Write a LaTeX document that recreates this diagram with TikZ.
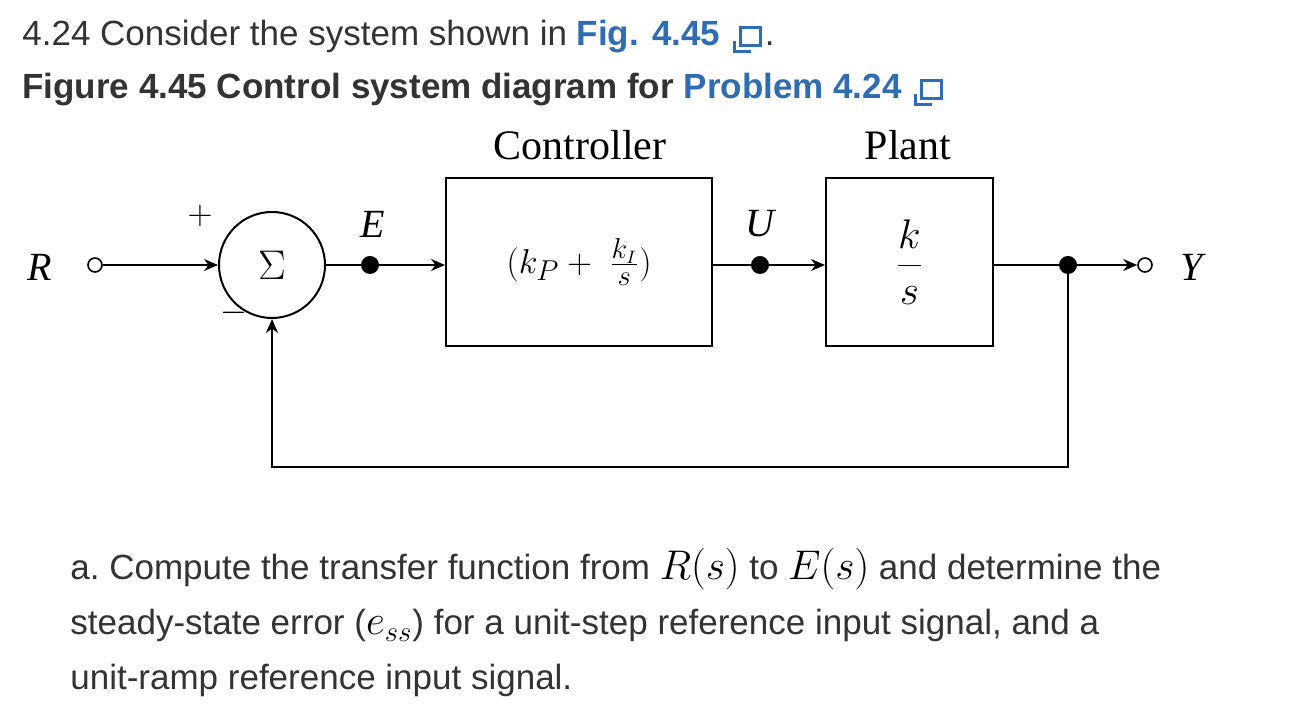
\documentclass[tikz,border=0pt]{standalone}
\usepackage{fontspec}
\setmainfont{Liberation Sans}
\newfontfamily\diagfont{Liberation Serif}
\usetikzlibrary{arrows.meta}
\definecolor{txt}{HTML}{333333}
\definecolor{lnk}{HTML}{2E6DB4}
\begin{document}
\begin{tikzpicture}[x=0.5pt,y=-0.5pt,
  blk/.style={draw,line width=1pt,minimum height=84pt,inner sep=0},
  wire/.style={line width=1pt},
  sig/.style={line width=1pt,-{Stealth[length=7pt,width=6pt]}},
  dotn/.style={circle,fill,inner sep=0,minimum size=9pt},
  port/.style={circle,draw,line width=0.8pt,inner sep=0,minimum size=7pt},
  lbl/.style={font=\diagfont\fontsize{20}{22}\selectfont\itshape},
  body/.style={font=\fontsize{17.5}{20}\selectfont,text=txt,anchor=base west,inner sep=0},
  icon/.pic={\draw[lnk,line width=1.5pt] (0,0) rectangle (20,-18); \draw[lnk,line width=1.5pt] (-6,-5)--(-6,6)--(10,6);}]
\useasboundingbox (0,0) rectangle (1292,710);
\node[body] (t1) at (22,46) {4.24 Consider the system shown in \textcolor{lnk}{\textbf{Fig. 4.45}}};
\pic at ([xshift=10pt]t1.base east) {icon};
\node[body] at ([xshift=22pt]t1.base east) {.};
\node[body] (t2) at (22,99) {\textbf{Figure 4.45 Control system diagram for \textcolor{lnk}{Problem 4.24}}};
\pic at ([xshift=10pt]t2.base east) {icon};
% diagram
\node[font=\diagfont\fontsize{21}{24}\selectfont] (ctl) at (580,145) {Controller};
\node[font=\diagfont\fontsize{21}{24}\selectfont] (plt) at (908,145) {Plant};
\node[lbl] (R) at (40,267) {R};
\node[port] (rin) at (95,265) {};
\node[circle,draw,line width=1pt,minimum size=53pt,inner sep=0,font=\fontsize{20}{22}\selectfont] (sum) at (272,265) {$\Sigma$};
\node[font=\fontsize{18}{20}\selectfont] (plus) at (200,216) {$+$};
\node[font=\fontsize{18}{20}\selectfont] (minus) at (234,313) {$-$};
\node[blk,minimum width=133pt] (C) at (579,262) {\fontsize{19}{22}\selectfont$\Bigl(k_P+\;\frac{k_I}{s}\Bigr)$};
\node[blk,minimum width=83.5pt] (P) at (909.5,262) {\fontsize{20}{24}\selectfont$\displaystyle\frac{k}{s}$};
\node[dotn] (e) at (370,265) {};
\node[lbl] (E) at (373,224) {E};
\node[dotn] (u) at (760,265) {};
\node[lbl] (U) at (760,224) {U};
\node[dotn] (y) at (1068,265) {};
\node[port] (yout) at (1145,265) {};
\node[lbl] (Y) at (1192,267) {Y};
\coordinate (fb1) at (1068,467);
\coordinate (fb2) at (272,467);
\draw[sig] (rin) -- (sum);
\draw[wire] (sum) -- (e);
\draw[sig] (e) -- (C.west|-e);
\draw[wire] (C.east|-u) -- (u);
\draw[sig] (u) -- (P.west|-u);
\draw[wire] (P.east|-y) -- (y);
\draw[sig] (y) -- (yout);
\draw[sig] (y) -- (fb1) -- (fb2) -- (sum.south);
% question
\node[body] at (70,580) {a.\ Compute the transfer function from {\color{black}\fontsize{21}{22}\selectfont$R(s)$} to {\color{black}\fontsize{21}{22}\selectfont$E(s)$} and determine the};
\node[body] at (70,635) {steady-state error ({\color{black}\fontsize{21}{22}\selectfont$e_{ss}$}) for a unit-step reference input signal, and a};
\node[body] at (70,690) {unit-ramp reference input signal.};
\end{tikzpicture}
\end{document}
